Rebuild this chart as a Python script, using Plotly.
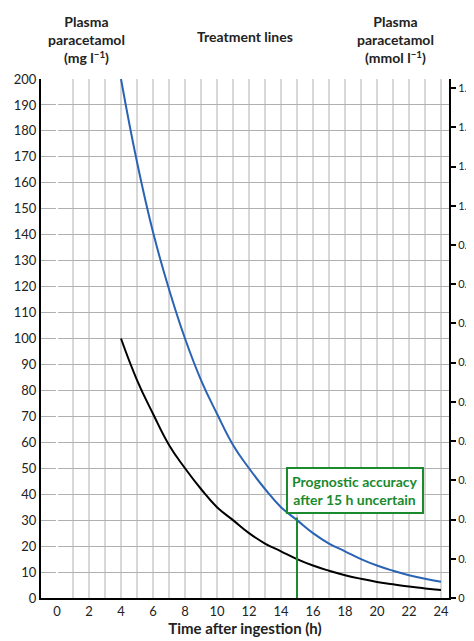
import plotly.graph_objects as go

hours = list(range(4, 25))
upper_line = [200, 168, 141, 119, 100, 84, 71, 59, 50, 42, 35, 30, 25, 21, 18, 15, 12.5, 10.5, 8.8, 7.4, 6.25]
lower_line = [100, 84, 71, 59, 50, 42, 35, 30, 25, 21, 18, 15, 12.5, 10.5, 8.8, 7.4, 6.2, 5.3, 4.4, 3.7, 3.1]
x_ticks = list(range(0, 25, 2))
y_ticks = list(range(0, 201, 10))
mmol_ticks = [round(i * 0.1, 1) for i in range(0, 14)]
cutoff_hour = [15, 15]
cutoff_level = [0, 31]
MW = 151.16

F = "Lato"
L, R, T, B = 33, 33, 71, 51
fig = go.Figure()
fig.add_trace(go.Scatter(x=hours, y=upper_line, mode="lines", line=dict(color="#2a63b4", width=2, shape="spline", smoothing=1.3)))
fig.add_trace(go.Scatter(x=hours, y=lower_line, mode="lines", line=dict(color="black", width=2, shape="spline", smoothing=1.3)))
fig.add_trace(go.Scatter(x=cutoff_hour, y=cutoff_level, mode="lines", line=dict(color="#1a8a2e", width=2)))
fig.add_trace(go.Scatter(x=[0], y=[0], yaxis="y2", mode="markers", marker=dict(opacity=0), hoverinfo="skip"))

fig.update_layout(
    width=474, height=641, showlegend=False,
    margin=dict(l=L, r=R, t=T, b=B, autoexpand=False),
    plot_bgcolor="white", paper_bgcolor="white",
    font=dict(family=F, size=13, color="#222"),
    xaxis=dict(range=[-1, 24.5], tickvals=x_ticks, showgrid=False, automargin=False,
               showline=True, linecolor="black", linewidth=2, ticks="",
               tickfont=dict(family=F, size=13, color="#222"),
               title=dict(text="<b>Time after ingestion (h)</b>", standoff=6, font=dict(size=15))),
    yaxis=dict(range=[0, 200], tickvals=y_ticks, showgrid=True, gridcolor="#b0b0b0", gridwidth=1,
               showline=True, linecolor="black", linewidth=2, ticks="", zeroline=False, automargin=False,
               tickfont=dict(family=F, size=13, color="#222")),
    yaxis2=dict(range=[0, 200 / MW], overlaying="y", side="right", tickvals=mmol_ticks,
                ticktext=[("%.1f" % v if v > 0 else "0") for v in mmol_ticks],
                showgrid=False, showline=True, linecolor="black", linewidth=2, automargin=False,
                ticks="outside", ticklen=5, tickwidth=2, tickcolor="black", zeroline=False,
                tickfont=dict(family=F, size=11, color="#222")),
)
for h in range(0, 25):
    fig.add_shape(type="line", x0=h, x1=h, y0=0, y1=200, xref="x", yref="y",
                  line=dict(color="#b0b0b0", width=1), layer="below")

fig.add_annotation(x=18.6, y=41.5, xref="x", yref="y", showarrow=False,
                   text="<b>Prognostic accuracy<br>after 15 h uncertain</b>",
                   font=dict(family=F, size=14, color="#1a8a2e"), bgcolor="white",
                   bordercolor="#1a8a2e", borderwidth=2, borderpad=4)
W, H = 474, 641
for px, py, t in [(38, 3, "Plasma<br>paracetamol<br>(mg l<sup>−1</sup>)"), (237, 18, "Treatment lines"),
                  (428, 3, "Plasma<br>paracetamol<br>(mmol l<sup>−1</sup>)")]:
    fig.add_annotation(x=(px - L) / (W - L - R), y=(H - py - B) / (H - T - B),
                       xref="paper", yref="paper", showarrow=False, yanchor="top",
                       text="<b>" + t + "</b>", font=dict(family=F, size=14, color="#222"))
fig.write_html("out.html")
